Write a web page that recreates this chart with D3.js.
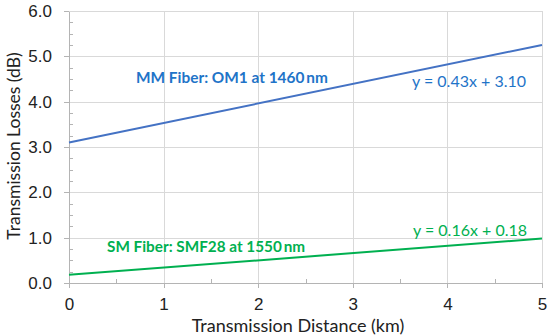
<!DOCTYPE html>
<html lang="en">
<head>
<meta charset="utf-8">
<title>Transmission Losses</title>
<style>
    body { margin: 0; background: #fff; }
    svg { font-family: Lato, "Noto Sans", sans-serif; }
    .grid line { stroke: #d9d9d9; stroke-width: 1; }
    .axis path, .axis line { stroke: #b4b4b4; shape-rendering: crispEdges; }
    .axis text { fill: #222; font-size: 17px; }
</style>
</head>
<body>
<div id="chart"></div>
<script src="https://d3js.org/d3.v7.min.js"></script>
<script>
// values
var distance = [0, 5];
var mmLoss = [3.10, 5.25];
var smLoss = [0.18, 0.98];
var xTicks = [0, 1, 2, 3, 4, 5];
var yTicks = [0, 1, 2, 3, 4, 5, 6];

var W = 550, H = 336;
var margin = { top: 11, right: 8, bottom: 53, left: 69 };
var width = W - margin.left - margin.right,
    height = H - margin.top - margin.bottom;

var x = d3.scaleLinear().domain([0, 5]).range([0, width]);
var y = d3.scaleLinear().domain([0, 6]).range([height, 0]);

var svg = d3.select("#chart").append("svg")
    .attr("width", W).attr("height", H)
    .append("g")
    .attr("transform", "translate(" + margin.left + "," + margin.top + ")");

// grid
var grid = svg.append("g").attr("class", "grid");
grid.selectAll(".gx").data(xTicks.slice(1)).enter().append("line")
    .attr("x1", function(d) { return Math.round(x(d)) + 0.5; })
    .attr("x2", function(d) { return Math.round(x(d)) + 0.5; })
    .attr("y1", 0).attr("y2", height);
grid.selectAll(".gy").data(yTicks.slice(1)).enter().append("line")
    .attr("x1", 0).attr("x2", width)
    .attr("y1", function(d) { return Math.round(y(d)) + 0.5; })
    .attr("y2", function(d) { return Math.round(y(d)) + 0.5; });

// minor ticks
var minorY = d3.range(0, 6, 0.25).filter(function(d) { return d % 1 !== 0; });
var minorX = d3.range(0.5, 5, 1);
svg.append("g").attr("class", "axis").selectAll("line").data(minorY).enter().append("line")
    .attr("x1", 0).attr("x2", 4)
    .attr("y1", function(d) { return Math.round(y(d)) + 0.5; })
    .attr("y2", function(d) { return Math.round(y(d)) + 0.5; });
svg.append("g").attr("class", "axis").selectAll("line").data(minorX).enter().append("line")
    .attr("y1", height).attr("y2", height - 4)
    .attr("x1", function(d) { return Math.round(x(d)) + 0.5; })
    .attr("x2", function(d) { return Math.round(x(d)) + 0.5; });

// axes
svg.append("g").attr("class", "x axis")
    .attr("transform", "translate(0," + height + ")")
    .call(d3.axisBottom(x).tickValues(xTicks).tickFormat(d3.format("d")).tickSize(5).tickSizeOuter(0).tickPadding(10));
svg.append("g").attr("class", "y axis")
    .call(d3.axisLeft(y).tickValues(yTicks).tickFormat(d3.format(".1f")).tickSize(5).tickSizeOuter(0).tickPadding(12));

// lines
var line = d3.line()
    .x(function(d) { return x(d[0]); })
    .y(function(d) { return y(d[1]); });

svg.append("path")
    .datum(d3.zip(distance, mmLoss))
    .attr("d", line)
    .attr("fill", "none")
    .attr("stroke", "#4472c4")
    .attr("stroke-width", 2);

svg.append("path")
    .datum(d3.zip(distance, smLoss))
    .attr("d", line)
    .attr("fill", "none")
    .attr("stroke", "#00b050")
    .attr("stroke-width", 2);

// labels
svg.append("text")
    .attr("x", 136 - margin.left).attr("y", 83 - margin.top)
    .style("font-size", "15.4px").style("font-weight", "bold")
    .attr("fill", "#1f74c8")
    .text("MM Fiber: OM1 at 1460\u2009nm");

svg.append("text")
    .attr("x", 412 - margin.left).attr("y", 87 - margin.top)
    .style("font-size", "16px")
    .attr("fill", "#1f74c8")
    .text("y = 0.43x + 3.10");

svg.append("text")
    .attr("x", 107 - margin.left).attr("y", 252 - margin.top)
    .style("font-size", "15.3px").style("font-weight", "bold")
    .attr("fill", "#00b050")
    .text("SM Fiber: SMF28 at 1550\u2009nm");

svg.append("text")
    .attr("x", 413 - margin.left).attr("y", 236 - margin.top)
    .style("font-size", "16px")
    .attr("fill", "#00b050")
    .text("y = 0.16x + 0.18");

// axis titles
svg.append("text")
    .attr("x", 298 - margin.left).attr("y", 332 - margin.top)
    .attr("text-anchor", "middle")
    .style("font-size", "18px").attr("fill", "#222")
    .text("Transmission Distance (km)");

svg.append("text")
    .attr("transform", "translate(" + (20 - margin.left) + "," + (146 - margin.top) + ") rotate(-90)")
    .attr("text-anchor", "middle")
    .style("font-size", "17.5px").attr("fill", "#222")
    .text("Transmission Losses (dB)");
</script>
</body>
</html>
